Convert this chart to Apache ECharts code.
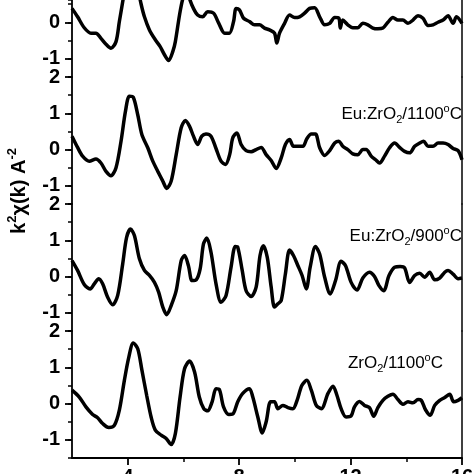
<!DOCTYPE html>
<html>
<head>
<meta charset="utf-8">
<script src="https://cdn.jsdelivr.net/npm/echarts@6/dist/echarts.min.js"></script>
<style>
  html, body { margin: 0; padding: 0; background: #fff; }
  #chart { width: 474px; height: 474px; }
</style>
</head>
<body>
<div id="chart"></div>
<script>
// k (A^-1) and k^2 chi(k), one pair of arrays per panel
const kTop = [2.00, 2.20, 2.44, 2.68, 2.86, 3.04, 3.22, 3.40, 3.58, 3.70, 3.82, 3.94, 4.08, 4.23, 4.36, 4.48, 4.60, 4.78, 4.99, 5.16, 5.32, 5.47, 5.62, 5.71, 5.86, 5.98, 6.12, 6.24, 6.36, 6.51, 6.69, 6.87, 7.08, 7.27, 7.48, 7.65, 7.80, 7.89, 8.01, 8.16, 8.37, 8.55, 8.73, 8.91, 9.09, 9.27, 9.35, 9.45, 9.63, 9.81, 9.99, 10.17, 10.35, 10.53, 10.71, 10.89, 11.07, 11.25, 11.43, 11.58, 11.63, 11.72, 11.90, 12.08, 12.26, 12.44, 12.62, 12.80, 12.98, 13.16, 13.34, 13.52, 13.70, 13.88, 14.06, 14.24, 14.42, 14.60, 14.78, 14.96, 15.14, 15.32, 15.50, 15.68, 15.80, 16.00];
const chiTop = [0.38, 0.15, -0.15, -0.30, -0.30, -0.44, -0.60, -0.71, -0.53, 0.02, 0.56, 1.10, 1.50, 1.45, 0.95, 0.50, 0.15, -0.21, -0.48, -0.66, -0.89, -1.05, -0.80, -0.53, 0.20, 0.65, 0.90, 0.60, 0.38, 0.20, 0.15, 0.29, 0.25, -0.03, -0.30, -0.30, 0.02, 0.38, 0.34, 0.11, 0.02, -0.07, -0.07, -0.16, -0.21, -0.30, -0.57, -0.30, -0.03, 0.20, 0.13, 0.15, 0.25, 0.38, 0.40, 0.15, -0.07, -0.03, 0.13, 0.11, -0.16, 0.06, -0.07, -0.15, -0.15, -0.03, -0.07, -0.16, -0.18, -0.16, 0.00, 0.13, 0.06, 0.06, -0.03, 0.06, 0.18, 0.11, -0.09, -0.07, 0.00, 0.06, 0.18, -0.03, 0.15, -0.03];

const kEu1100 = [2.00, 2.20, 2.38, 2.62, 2.86, 3.04, 3.22, 3.40, 3.58, 3.76, 3.92, 4.06, 4.20, 4.36, 4.51, 4.72, 4.90, 5.08, 5.26, 5.40, 5.56, 5.74, 5.92, 6.07, 6.22, 6.36, 6.51, 6.66, 6.81, 6.99, 7.17, 7.35, 7.51, 7.66, 7.77, 7.92, 8.07, 8.25, 8.43, 8.61, 8.79, 8.97, 9.15, 9.33, 9.51, 9.66, 9.81, 9.95, 10.11, 10.29, 10.43, 10.59, 10.74, 10.89, 11.07, 11.25, 11.43, 11.58, 11.72, 11.90, 12.08, 12.26, 12.44, 12.56, 12.74, 12.90, 13.04, 13.22, 13.40, 13.58, 13.76, 13.94, 14.12, 14.30, 14.48, 14.62, 14.78, 14.96, 15.14, 15.32, 15.50, 15.68, 15.86, 16.00];
const chiEu1100 = [0.37, 0.06, -0.18, -0.32, -0.26, -0.37, -0.60, -0.72, -0.50, 0.23, 1.06, 1.47, 1.44, 0.96, 0.41, 0.05, -0.32, -0.60, -0.87, -1.07, -0.87, -0.14, 0.60, 0.80, 0.64, 0.37, 0.14, 0.37, 0.43, 0.37, 0.03, -0.32, -0.41, -0.14, 0.32, 0.46, 0.14, -0.03, -0.06, 0.00, 0.06, -0.14, -0.30, -0.52, -0.23, 0.14, 0.28, 0.09, 0.09, 0.09, 0.30, 0.43, 0.43, 0.05, -0.16, -0.03, 0.18, 0.23, 0.09, 0.00, -0.12, -0.14, 0.00, 0.00, -0.18, -0.28, -0.37, -0.18, 0.05, 0.18, 0.06, -0.05, -0.09, 0.09, 0.18, 0.23, 0.09, 0.09, 0.18, 0.18, 0.14, 0.03, -0.03, -0.28];

const kEu900 = [2.00, 2.20, 2.44, 2.65, 2.80, 2.96, 3.10, 3.28, 3.46, 3.64, 3.82, 3.96, 4.10, 4.24, 4.42, 4.60, 4.78, 4.96, 5.11, 5.26, 5.40, 5.56, 5.74, 5.92, 6.04, 6.18, 6.31, 6.46, 6.60, 6.72, 6.84, 6.99, 7.17, 7.35, 7.53, 7.71, 7.86, 7.95, 8.11, 8.25, 8.43, 8.61, 8.75, 8.87, 9.01, 9.15, 9.27, 9.39, 9.51, 9.66, 9.81, 9.95, 10.11, 10.26, 10.41, 10.55, 10.74, 10.89, 11.07, 11.27, 11.46, 11.66, 11.82, 12.02, 12.23, 12.44, 12.68, 12.86, 13.02, 13.19, 13.38, 13.58, 13.78, 13.94, 14.12, 14.30, 14.48, 14.66, 14.84, 15.02, 15.20, 15.38, 15.50, 15.68, 15.86, 16.00];
const chiEu900 = [0.44, 0.17, -0.22, -0.34, -0.20, -0.06, -0.20, -0.57, -0.78, -0.52, 0.35, 1.08, 1.31, 1.13, 0.49, 0.17, 0.03, -0.16, -0.43, -0.84, -1.05, -0.80, -0.39, 0.44, 0.58, 0.30, -0.11, -0.09, 0.21, 0.90, 1.06, 0.67, -0.20, -0.71, -0.52, 0.26, 0.83, 0.81, 0.17, -0.39, -0.55, -0.29, 0.58, 0.85, 0.53, -0.29, -0.84, -0.75, -0.66, 0.07, 0.73, 0.58, 0.30, 0.03, -0.34, 0.26, 0.83, 0.62, -0.02, -0.48, -0.11, 0.42, 0.30, -0.16, -0.37, -0.04, 0.12, 0.00, -0.25, -0.39, 0.03, 0.26, 0.28, 0.24, -0.16, 0.03, 0.09, -0.02, 0.12, -0.09, -0.04, 0.12, 0.17, 0.07, -0.06, -0.04];

const kZr1100 = [2.00, 2.26, 2.50, 2.74, 2.92, 3.10, 3.32, 3.52, 3.70, 3.88, 4.04, 4.20, 4.36, 4.51, 4.68, 4.84, 4.99, 5.20, 5.38, 5.56, 5.71, 5.88, 6.04, 6.22, 6.40, 6.57, 6.73, 6.87, 7.03, 7.17, 7.29, 7.44, 7.63, 7.77, 7.95, 8.13, 8.37, 8.49, 8.67, 8.83, 8.97, 9.13, 9.27, 9.39, 9.57, 9.75, 9.93, 10.08, 10.25, 10.43, 10.59, 10.77, 10.95, 11.19, 11.37, 11.51, 11.66, 11.84, 12.02, 12.14, 12.32, 12.50, 12.68, 12.83, 12.98, 13.16, 13.34, 13.52, 13.70, 13.88, 14.06, 14.24, 14.42, 14.54, 14.69, 14.86, 15.02, 15.20, 15.38, 15.56, 15.70, 15.86, 16.00];
const chiZr1100 = [0.37, 0.18, -0.09, -0.30, -0.39, -0.55, -0.66, -0.60, -0.18, 0.64, 1.28, 1.67, 1.51, 0.92, 0.23, -0.37, -0.73, -0.87, -0.96, -1.13, -0.83, 0.18, 0.96, 1.17, 0.87, 0.18, -0.14, -0.20, 0.05, 0.41, 0.39, -0.09, -0.30, -0.29, 0.05, 0.28, 0.41, 0.18, -0.37, -0.81, -0.50, 0.05, 0.05, -0.14, -0.05, -0.11, -0.14, 0.09, 0.50, 0.64, 0.37, -0.05, -0.14, 0.28, 0.48, 0.23, -0.14, -0.37, -0.34, -0.09, 0.06, -0.05, -0.11, -0.35, -0.11, 0.09, 0.20, 0.26, 0.11, -0.02, 0.05, 0.02, 0.11, 0.09, -0.17, -0.32, -0.05, 0.09, 0.17, 0.26, 0.05, 0.09, 0.16];

const panels = [
  { k: kTop, chi: chiTop },
  { k: kEu1100, chi: chiEu1100 },
  { k: kEu900, chi: chiEu900 },
  { k: kZr1100, chi: chiZr1100 }
];
const yTicks = [-1, 0, 1, 2];
const kLabels = [4, 8, 12, 16];
const kMinor = [6, 10, 14];

// the top panel is cut by the picture edge, so it only shows up to about 0.6
const gridTops = [0, 77, 204, 331];
const gridHeights = [77, 127, 127, 127];
const yMax = [0.61, 2, 2, 2];
const font = "'Liberation Sans', Arial, sans-serif";
const ink = '#000';

let chart = echarts.init(document.getElementById('chart'));

let grids = [], xAxes = [], yAxes = [], series = [];
panels.forEach((p, i) => {
  grids.push({ left: 72, right: 12, top: gridTops[i], height: gridHeights[i], outerBoundsMode: 'none', containLabel: false });
  xAxes.push({
    gridIndex: i, type: 'value', min: 2, max: 16, interval: 2,
    show: i === 3, position: 'bottom',
    axisLine: { show: true, onZero: false, lineStyle: { color: ink, width: 1.8 } },
    axisTick: { show: true, customValues: kLabels, length: 7, lineStyle: { color: ink, width: 1.8 } },
    axisLabel: {
      show: true, customValues: kLabels, margin: 9,
      color: ink, fontFamily: font, fontWeight: 'bold', fontSize: 20
    },
    splitLine: { show: false }
  });
  yAxes.push({
    gridIndex: i, type: 'value', min: -1.5, max: yMax[i], interval: 0.5, position: 'left',
    axisLine: { show: true, onZero: false, lineStyle: { color: ink, width: 1.8 } },
    axisTick: { show: true, length: 4, lineStyle: { color: ink, width: 1.5 } },
    axisLabel: {
      show: true, customValues: yTicks.filter(v => v <= yMax[i]), margin: 12,
      color: ink, fontFamily: font, fontWeight: 'bold', fontSize: 20
    },
    splitLine: { show: false }
  });
  yAxes.push({
    gridIndex: i, type: 'value', min: -1.5, max: yMax[i], interval: 0.5, position: 'left',
    axisLine: { show: false, onZero: false },
    axisTick: { show: true, customValues: yTicks.filter(v => v <= yMax[i]), length: 7, lineStyle: { color: ink, width: 1.8 } },
    axisLabel: { show: false },
    splitLine: { show: false }
  });
  yAxes.push({
    gridIndex: i, type: 'value', min: -1.5, max: yMax[i], interval: 0.5, position: 'right',
    axisLine: { show: true, onZero: false, lineStyle: { color: ink, width: 1.5 } },
    axisTick: { show: false },
    axisLabel: { show: false },
    splitLine: { show: false }
  });
  series.push({
    type: 'line',
    xAxisIndex: i,
    yAxisIndex: i * 3,
    data: p.k.map((k, j) => [k, p.chi[j]]),
    showSymbol: false,
    smooth: 0.3,
    lineStyle: { color: ink, width: 3.5 },
    animation: false
  });
});

// short ticks on the bottom axis (6, 10, 14)
xAxes.push({
  gridIndex: 3, type: 'value', min: 2, max: 16, interval: 2, position: 'bottom',
  axisLine: { show: false, onZero: false },
  axisTick: { show: true, customValues: kMinor, length: 4, lineStyle: { color: ink, width: 1.5 } },
  axisLabel: { show: false },
  splitLine: { show: false }
});

const rich = {
  n: { fontFamily: font, fontSize: 17, color: ink, lineHeight: 22 },
  sub: { fontFamily: font, fontSize: 11, color: ink, verticalAlign: 'bottom' },
  sup: { fontFamily: font, fontSize: 11, color: ink, verticalAlign: 'top' },
  b: { fontFamily: font, fontSize: 20, fontWeight: 'bold', color: ink, lineHeight: 26 },
  bs: { fontFamily: font, fontSize: 13, fontWeight: 'bold', color: ink, verticalAlign: 'top' }
};

chart.setOption({
  backgroundColor: '#fff',
  animation: false,
  grid: grids,
  xAxis: xAxes,
  yAxis: yAxes,
  series: series,
  graphic: [
    {
      type: 'text', x: 19, y: 191, rotation: Math.PI / 2,
      style: { text: '{b|k}{bs|2}{b|χ(k) A}{bs|-2}', rich: rich, align: 'center', verticalAlign: 'middle' }
    },
    {
      type: 'text', x: 462, y: 114,
      style: { text: '{n|Eu:ZrO}{sub|2}{n|/1100}{sup|o}{n|C}', rich: rich, align: 'right', verticalAlign: 'middle' }
    },
    {
      type: 'text', x: 462, y: 236,
      style: { text: '{n|Eu:ZrO}{sub|2}{n|/900}{sup|o}{n|C}', rich: rich, align: 'right', verticalAlign: 'middle' }
    },
    {
      type: 'text', x: 443, y: 363,
      style: { text: '{n|ZrO}{sub|2}{n|/1100}{sup|o}{n|C}', rich: rich, align: 'right', verticalAlign: 'middle' }
    }
  ]
});
</script>
</body>
</html>
